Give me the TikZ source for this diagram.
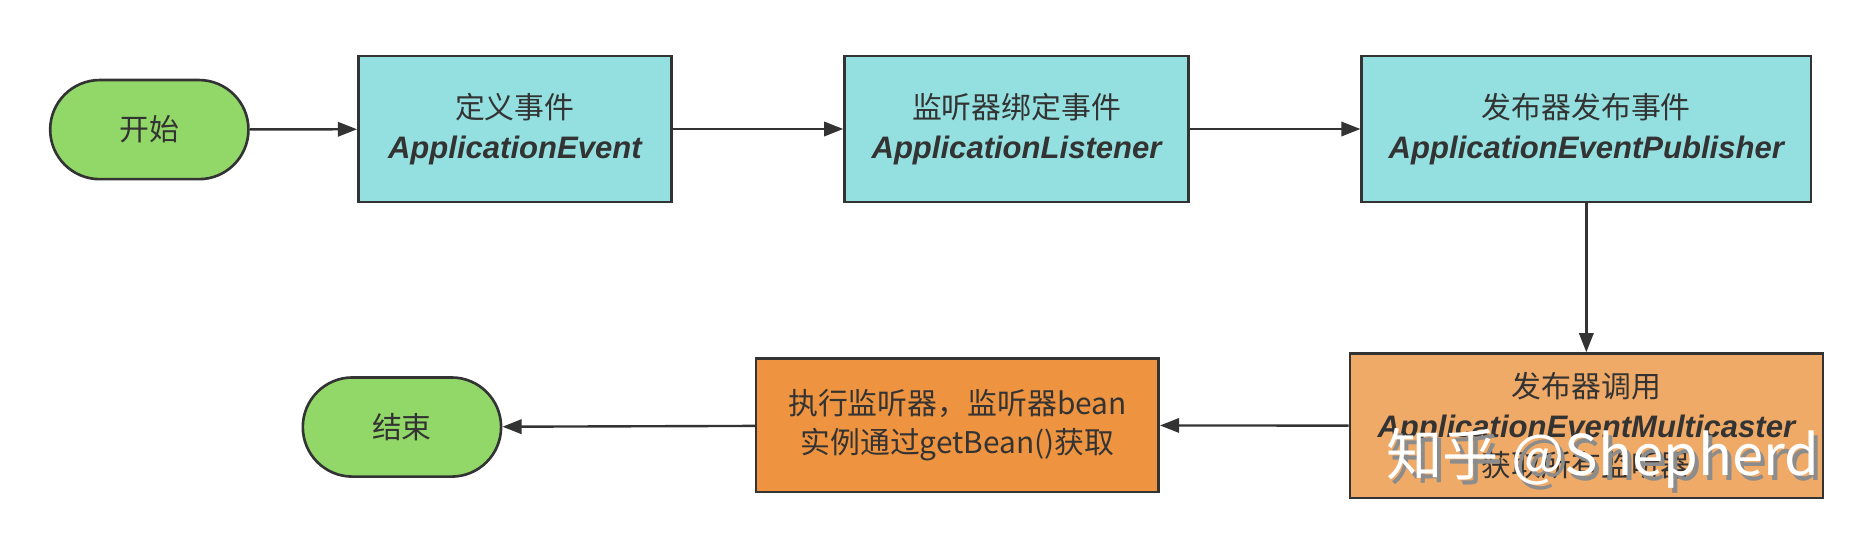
\documentclass[tikz,border=0pt]{standalone}
\usepackage{fontspec}
\setmainfont{Liberation Sans}
\newfontfamily\cjk{Noto Sans CJK SC}
\newcommand\enx{\fontspec{Liberation Sans}\fontsize{26}{33}\selectfont\bfseries\itshape}
\usetikzlibrary{arrows.meta,shapes.misc}
\definecolor{cy}{HTML}{94E0E0}
\definecolor{gr}{HTML}{92D868}
\definecolor{or1}{HTML}{F0AA68}
\definecolor{or2}{HTML}{EE9440}
\definecolor{ln}{HTML}{333333}
\begin{document}
\begin{tikzpicture}[x=1pt,y=-1pt,
 box/.style={draw=ln,line width=2.2pt,align=center,font=\cjk\fontsize{25}{33}\selectfont,text=ln,inner sep=0pt},
 term/.style={box,fill=gr,rounded rectangle,minimum width=166pt,minimum height=83pt},
 arr/.style={draw=ln,line width=2pt,-{Triangle[length=16pt,width=12pt]}}]
\useasboundingbox (0,0) rectangle (1568,460);
\node[term] (s) at (125,108.5) {开始};
\node[box,fill=cy,minimum width=262pt,minimum height=122pt] (b1) at (431,108) {定义事件\\{\enx ApplicationEvent}};
\node[box,fill=cy,minimum width=288pt,minimum height=122pt] (b2) at (851,108) {监听器绑定事件\\{\enx ApplicationListener}};
\node[box,fill=cy,minimum width=376pt,minimum height=122pt] (b3) at (1328,108) {发布器发布事件\\{\enx ApplicationEventPublisher}};
\node[box,fill=or1,minimum width=396pt,minimum height=121pt] (b4) at (1328,356.5) {发布器调用\\{\enx ApplicationEventMulticaster}\\获取所有监听器};
\node[box,fill=or2,minimum width=337pt,minimum height=112pt] (b5) at (801.5,356) {执行监听器，监听器bean\\实例通过getBean()获取};
\node[term] (e) at (336.5,357.5) {结束};
\draw[arr] (s) -- (b1);
\draw[arr] (b1) -- (b2);
\draw[arr] (b2) -- (b3);
\draw[arr] (b3) -- (b4);
\draw[arr] (b4) -- (b5);
\draw[arr] (b5) -- (e);
\node[text=black!45,font=\cjk\fontsize{47}{50}\selectfont] (wm2) at (1345.5,387.5) {知乎 @Shepherd};
\node[text=white,font=\cjk\fontsize{47}{50}\selectfont] (wm) at (1342,384) {知乎 @Shepherd};
\end{tikzpicture}
\end{document}
